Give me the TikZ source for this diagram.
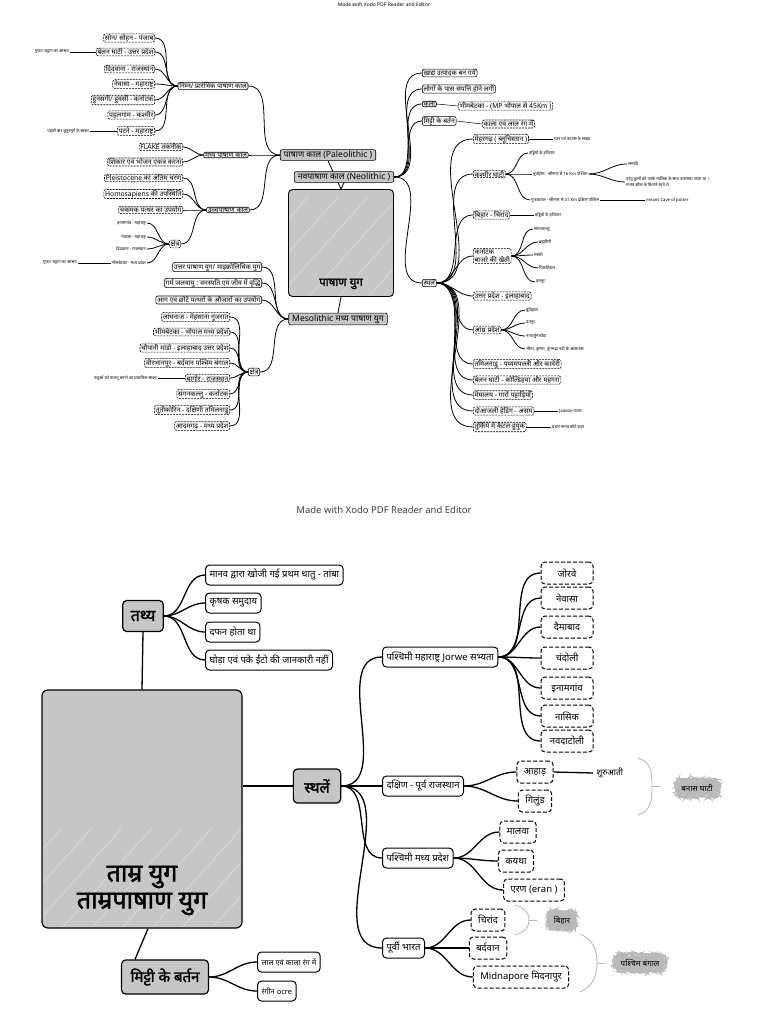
\documentclass[tikz,border=0pt]{standalone}
\usepackage{fontspec}
\setmainfont{Noto Sans}[Script=Devanagari, BoldFont={Noto Sans}, BoldFeatures={FakeBold=2}]
\usetikzlibrary{positioning,backgrounds,decorations.pathmorphing}

\tikzset{
  pbox/.style={draw, rounded corners=2pt, fill=white, inner xsep=1.3pt, inner ysep=0.6pt, line width=0.6pt},
  dbox/.style={pbox, dash pattern=on 2pt off 1pt},
  gbox/.style={pbox, fill=gray!45},
  ptxt/.style={font=\fontsize{6.8}{8}\selectfont},
  headtxt/.style={font=\fontsize{8.6}{10}\selectfont, inner xsep=3.5pt, inner ysep=1.5pt},
  notetxt/.style={inner sep=1pt, font=\fontsize{4.2}{5.2}\selectfont},
  conn/.style={line width=0.8pt},
  twig/.style={line width=0.5pt},
  bigtxt/.style={font=\fontsize{9.5}{11}\selectfont, line width=1pt, inner xsep=4pt, inner ysep=3pt, minimum height=20pt, rounded corners=4pt},
  bdash/.style={pbox, bigtxt, inner xsep=7pt, minimum height=22pt, dash pattern=on 4pt off 2pt},
  headbox/.style={gbox, bigtxt, font=\fontsize{15}{17}\selectfont\bfseries, line width=1.2pt, inner xsep=9pt, minimum height=34pt},
  blink/.style={line width=1.3pt},
  blob/.style={fill=gray!55, draw=gray!55, rounded corners=6pt, inner xsep=6pt, inner ysep=5pt, font=\fontsize{8}{9}\selectfont,
    decorate, decoration={random steps, segment length=1.5pt, amplitude=0.7pt}},
  bracket/.style={draw=gray!55, line width=0.9pt},
  hatch/.style={path picture={\foreach \s in {-100,-70,...,180}
    \draw[white, opacity=0.45, line width=0.5pt] ([xshift=\s pt]path picture bounding box.south west) -- ++(90,-100);}}
}

\begin{document}
\begin{tikzpicture}[x=1pt,y=-1pt]
  \useasboundingbox (0,0) rectangle (768,1024);

  % ---------------- पाषाण युग ----------------
  \node[font=\fontsize{5}{6}\selectfont] (mark1) at (384,5) {Made with Xodo PDF Reader and Editor};
  \node[gbox, minimum width=105pt, minimum height=107pt, rounded corners=4pt, line width=0.9pt, hatch] (pyug) at (341,243)
    {\smash{\raisebox{-43pt}{\fontsize{11.5}{12}\selectfont\bfseries पाषाण युग}}};
  \node[gbox, headtxt] (paleo) at (328,155) {पाषाण काल (Paleolithic )};
  \node[gbox, headtxt] (neo) at (344,177) {नवपाषाण काल (Neolithic )};
  \node[gbox, headtxt] (meso) at (338,319) {Mesolithic मध्य पाषाण युग};
  \begin{scope}[on background layer]
    \draw[conn] (pyug.north) -- (paleo.south);
    \draw[conn] (pyug.north) -- (neo.south);
    \draw[conn] (pyug.south) -- (meso.north);
  \end{scope}

  % Paleolithic
  \node[pbox, ptxt] (lower) at (213,86) {निम्न/ प्रारंभिक पाषाण काल};
  \node[pbox, ptxt] (middle) at (226,155) {मध्य पाषाण काल};
  \node[pbox, ptxt] (upper) at (228,210) {उच्चपाषाण काल};
  \foreach \c in {lower,middle,upper} \draw[conn] (paleo.west) to[out=180,in=0] (\c.east);

  \foreach \y/\txt [count=\i] in {38/{सोन/ सोहन - पंजाब}, 52/{बेलन घाटी - उत्तर प्रदेश}, 69/{दिदवाना - राजस्थान},
      84/{नेवासा - महाराष्ट्र}, 100/{हुनसगी/ हुवसी - कर्नाटक}, 115/{पहलगाम - कश्मीर}, 131/{पटने - महाराष्ट्र}} {
    \node[dbox, ptxt, anchor=east] (lo\i) at (155,\y) {\txt};
    \draw[conn] (lower.west) to[out=180,in=0] (lo\i.east);
  }
  \node[notetxt, anchor=east] (lonote1) at (70,52) {गुफा/ चट्टान का आश्रय};
  \draw[twig] (lonote1.east) -- (lo2.west);
  \node[notetxt, anchor=east] (lonote2) at (90,131) {पहली बार शुतुरमुर्ग के साक्ष्य};
  \draw[twig] (lonote2.east) -- (lo7.west);

  \foreach \y/\txt [count=\i] in {147/{FLAKE तकनीक}, 162/{शिकार एवं भोजन एकत्र करना}} {
    \node[dbox, ptxt, anchor=east] (mi\i) at (183,\y) {\txt};
    \draw[conn] (middle.west) to[out=180,in=0] (mi\i.east);
  }
  \foreach \y/\txt [count=\i] in {178/{Pleistocene का अंतिम चरण}, 194/{Homosapiens की उपस्थिति}, 210/{चकमक पत्थर का उपयोग}} {
    \node[dbox, ptxt, anchor=east] (up\i) at (183,\y) {\txt};
    \draw[conn] (upper.west) to[out=180,in=0] (up\i.east);
  }
  \node[dbox, ptxt] (area1) at (175,244) {क्षेत्र};
  \draw[conn] (upper.west) to[out=180,in=0] (area1.east);
  \foreach \y/\txt [count=\i] in {223/{इनामगांव - महाराष्ट्र}, 237/{नेवासा - महाराष्ट्र}, 249/{दिदवाना - राजस्थान}, 263/{भीमबेटका - मध्य प्रदेश}} {
    \node[notetxt, anchor=east] (ar\i) at (147,\y) {\txt};
    \draw[conn] (area1.west) to[out=180,in=0] (ar\i.east);
  }
  \node[notetxt, anchor=east] (arnote) at (78,263) {गुफा/ चट्टान का आश्रय};
  \draw[twig] (arnote.east) -- (ar4.west);

  % Mesolithic
  \foreach \y/\txt [count=\i] in {267/{उत्तर पाषाण युग/ माइक्रोलिथिक युग}, 283/{गर्म जलवायु : वनस्पति एवं जीव में वृद्धि},
      300/{आग एवं छोटे पत्थरों के औजारों का उपयोग}} {
    \node[pbox, ptxt, anchor=east] (me\i) at (262,\y) {\txt};
    \draw[conn] (meso.west) to[out=180,in=0] (me\i.east);
  }
  \node[pbox, ptxt] (area2) at (254,372) {क्षेत्र};
  \draw[conn] (meso.west) to[out=180,in=0] (area2.east);
  \foreach \y/\txt [count=\i] in {317/{लांघनाज - मेहसाना गुजरात}, 332/{भीमबेटका - भोपाल मध्य प्रदेश}, 348/{चौपानी मांडो - इलाहाबाद उत्तर प्रदेश},
      363/{वीरभानपुर - बर्दवान पश्चिम बंगाल}, 378/{बागोर - राजस्थान}, 394/{संगनकल्लु - कर्नाटक}, 410/{तूतीकोरिन - दक्षिणी तमिलनाडु},
      426/{आदमगढ़ - मध्य प्रदेश}} {
    \node[dbox, ptxt, anchor=east] (ag\i) at (230,\y) {\txt};
    \draw[conn] (area2.west) to[out=180,in=0] (ag\i.east);
  }
  \node[notetxt, anchor=east] (agnote) at (158,378) {पशुओं को पालतू बनाने का प्राथमिक साक्ष्य};
  \draw[twig] (agnote.east) -- (ag5.west);

  % Neolithic
  \foreach \y/\txt [count=\i] in {73/{खाद्य उत्पादक बन गये}, 89/{लोगों के पास संपत्ति होने लगी}, 104/{कला}, 121/{मिट्टी के बर्तन}, 283/{स्थलें}} {
    \node[pbox, ptxt, anchor=west] (ne\i) at (422,\y) {\txt};
    \draw[conn] (neo.east) to[out=0,in=180] (ne\i.west);
  }
  \node[dbox, ptxt, anchor=west] (art) at (458,106) {भीमबेटका - (MP भोपाल से 45Km )};
  \draw[twig] (ne3.east) -- (art.west);
  \node[dbox, ptxt, anchor=west] (pot1) at (482,124) {काला एवं लाल रंग में};
  \draw[twig] (ne4.east) -- (pot1.west);

  \foreach \y/\nm/\txt in {139/mehr/{मेहरगढ़ ( ब्लूचिस्तान )}, 174/kash/{कश्मीर घाटी}, 215/chir/{बिहार - चिरांद},
      296/upra/{उत्तर प्रदेश - इलाहाबाद}, 330/andh/{आंध्र प्रदेश}, 364/tami/{तमिलनाडु - पय्यमपल्ली और कावेरी},
      380/bela/{बेलन घाटी - कोल्डिहवा और महगरा}, 395/megh/{मेघालय - गारो पहाड़ियाँ}, 411/assa/{दोआजली हेडिंग - असम},
      427/turk/{तुर्किये में कैटल हुयुक}} {
    \node[dbox, ptxt, anchor=west] (\nm) at (473,\y) {\txt};
    \draw[conn] (ne5.east) to[out=0,in=180] (\nm.west);
  }
  \node[dbox, ptxt, anchor=west, align=left] (karn) at (473,256) {कर्नाटक\\बाजरे की खेती};
  \draw[conn] (ne5.east) to[out=0,in=180] (karn.west);

  \node[notetxt, anchor=west] (mehrnote) at (553,139) {धान एवं कपास के साक्ष्य};
  \draw[twig] (mehr.east) -- (mehrnote.west);
  \node[notetxt, anchor=west] (kash1) at (528,153) {हड्डियों के हथियार};
  \node[notetxt, anchor=west] (kash2) at (532,174) {बुर्जहोम - श्रीनगर से 16 Km पश्चिम};
  \node[notetxt, anchor=west] (kash3) at (530,200) {गुफकराल - श्रीनगर से 41 Km दक्षिण पश्चिम};
  \foreach \c in {kash1,kash2,kash3} \draw[conn] (kash.east) to[out=0,in=180] (\c.west);
  \node[notetxt, anchor=west] (burz1) at (627,164) {समाधि};
  \node[notetxt, anchor=west, align=left] (burz2) at (625,182) {परंतु कुत्तों को उनके मालिक के साथ दफनाया जाता था ।\\मानव झील के किनारे रहते थे};
  \foreach \c in {burz1,burz2} \draw[conn] (kash2.east) to[out=0,in=180] (\c.west);
  \node[notetxt, anchor=west] (potter) at (645,200) {means Cave of potter};
  \draw[twig] (kash3.east) -- (potter.west);
  \node[notetxt, anchor=west] (chirnote) at (534,215) {हड्डियों के हथियार};
  \draw[twig] (chir.east) -- (chirnote.west);
  \foreach \y/\x/\txt [count=\i] in {229/533/संगनकल्लु, 242/538/ब्रह्मगिरी, 255/533/मस्की, 268/538/पिकलिहल, 282/535/हल्लूर} {
    \node[notetxt, anchor=west] (ka\i) at (\x,\y) {\txt};
    \draw[conn] (karn.east) to[out=0,in=180] (ka\i.west);
  }
  \foreach \y/\txt [count=\i] in {310/बुदिहाल, 323/उतनूर, 336/नागार्जुनकोंडा, 349/{भीमा, कृष्णा, तुंगभद्रा नदी के आसपास}} {
    \node[notetxt, anchor=west] (an\i) at (525,\y) {\txt};
    \draw[conn] (andh.east) to[out=0,in=180] (an\i.west);
  }
  \node[notetxt, anchor=west] (assanote) at (558,411) {Jadeite पत्थर};
  \draw[twig] (assa.east) -- (assanote.west);
  \node[notetxt, anchor=west] (turknote) at (551,427) {प्रथम मानव छोटे शहर};
  \draw[twig] (turk.east) -- (turknote.west);

  % ---------------- ताम्र युग ----------------
  \node[font=\fontsize{9.5}{11}\selectfont, text=black!75] (mark2) at (384,510) {Made with Xodo PDF Reader and Editor};
  \node[gbox, minimum width=200pt, minimum height=238pt, rounded corners=6pt, line width=1.2pt, hatch] (tamra) at (142,809)
    {\smash{\raisebox{-84pt}{\parbox{196pt}{\centering\fontsize{25}{27}\selectfont\bfseries ताम्र युग\\ताम्रपाषाण युग}}}};
  \node[headbox, font=\fontsize{16}{18}\selectfont\bfseries, inner xsep=8pt, minimum height=31pt] (fact) at (143,616) {तथ्य};
  \node[headbox, inner xsep=11pt] (sthal) at (317,786) {स्थलें};
  \node[headbox] (pots) at (165,977) {मिट्टी के बर्तन};
  \draw[blink] (tamra.north) -- (fact.south);
  \draw[blink] (sthal.west -| tamra.east) -- (sthal.west);
  \draw[blink] ([xshift=6pt]tamra.south) -- ([xshift=-30pt]pots.north);

  \foreach \y/\txt [count=\i] in {575/{मानव द्वारा खोजी गई प्रथम धातु - तांबा}, 603/{कृषक समुदाय}, 632/{दफन होता था},
      660/{घोड़ा एवं पके ईंटो की जानकारी नहीं}} {
    \node[pbox, bigtxt, anchor=west] (fa\i) at (205,\y) {\txt};
    \draw[blink] (fact.east) to[out=0,in=180] (fa\i.west);
  }
  \foreach \y/\txt [count=\i] in {962/{लाल एवं काला रंग में}, 991/{रंगीन ocre}} {
    \node[pbox, bigtxt, font=\fontsize{7.5}{8.5}\selectfont, minimum height=20pt, anchor=west] (po\i) at (257,\y) {\txt};
    \draw[blink] (pots.east) to[out=0,in=180] (po\i.west);
  }

  \node[pbox, bigtxt, anchor=west] (jorwe) at (382,657) {पश्चिमी महाराष्ट्र Jorwe सभ्यता};
  \node[pbox, bigtxt, anchor=west] (raj) at (382,786) {दक्षिण - पूर्व राजस्थान};
  \node[pbox, bigtxt, anchor=west] (wmp) at (382,858) {पश्चिमी मध्य प्रदेश};
  \node[pbox, bigtxt, anchor=west] (east) at (382,948) {पूर्वी भारत};
  \foreach \c in {jorwe,raj,wmp,east} \draw[blink] (sthal.east) to[out=0,in=180] (\c.west);

  \foreach \y/\txt [count=\i] in {573/जोरवे, 598/नेवासा, 627/दैमाबाद, 658/चंदोली, 688/इनामगांव, 716/नासिक, 741/नवदाटोली} {
    \node[bdash, minimum width=52pt] (jo\i) at (567,\y) {\txt};
    \draw[blink] (jorwe.east) to[out=0,in=180] (jo\i.west);
  }
  \node[bdash] (ahar) at (535,772) {आहाड़};
  \node[bdash] (gilund) at (535,801) {गिलुंड};
  \foreach \c in {ahar,gilund} \draw[blink] (raj.east) to[out=0,in=180] (\c.west);
  \node[font=\fontsize{8.5}{10}\selectfont, anchor=west] (early) at (593,773) {शुरुआती};
  \draw[blink] (ahar.east) -- (early.west);
  \draw[bracket] (638,758) .. controls (651,762) and (652,772) .. (652,786) .. controls (652,800) and (651,811) .. (638,815);
  \coordinate (banastip) at (660,786);
  \draw[bracket] (652,786) -- (banastip);
  \node[blob] (banas) at (697,788) {बनास घाटी};

  \node[bdash] (malwa) at (518,832) {मालवा};
  \node[bdash] (kayatha) at (516,861) {कयथा};
  \node[bdash] (eran) at (534,890) {एरण (eran )};
  \foreach \c in {malwa,kayatha,eran} \draw[blink] (wmp.east) to[out=0,in=180] (\c.west);

  \node[bdash] (chirand) at (488,920) {चिरांद};
  \node[bdash] (burdwan) at (488,948) {बर्दवान};
  \node[bdash] (midna) at (521,977) {Midnapore मिदनापुर};
  \foreach \c in {chirand,burdwan,midna} \draw[blink] (east.east) to[out=0,in=180] (\c.west);
  \draw[bracket] (515,905) .. controls (526,908) and (529,914) .. (529,920) .. controls (529,926) and (526,932) .. (515,935);
  \coordinate (bihartip) at (537,920);
  \draw[bracket] (529,920) -- (bihartip);
  \node[blob] (bihar) at (562,920) {बिहार};
  \draw[bracket] (580,934) .. controls (594,940) and (597,952) .. (597,963) .. controls (597,974) and (594,986) .. (580,992);
  \coordinate (bengaltip) at (605,963);
  \draw[bracket] (597,963) -- (bengaltip);
  \node[blob] (bengal) at (640,963) {पश्चिम बंगाल};
\end{tikzpicture}
\end{document}
